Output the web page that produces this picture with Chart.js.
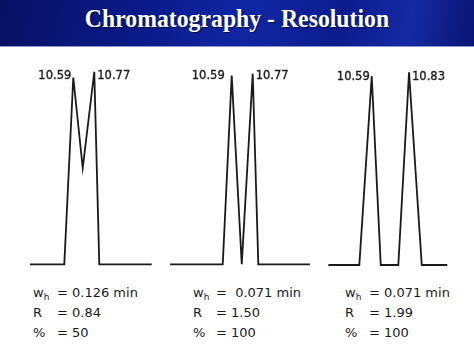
<!DOCTYPE html>
<html>
<head>
<meta charset="utf-8">
<script src="https://cdn.jsdelivr.net/npm/chart.js@4/dist/chart.umd.min.js"></script>
<style>
  html, body { margin: 0; padding: 0; background: #ffffff; }
  body { width: 474px; height: 355px; position: relative; overflow: hidden; }
  #titlebar {
    position: absolute; left: 0; top: 0; width: 474px; height: 46px;
    background: linear-gradient(100deg, #081062 0%, #0b1a8a 30%, #1026a2 52%, #0c1c8e 72%, #152aa4 86%, #0a1472 100%);
    border-bottom: 1px solid #8e96c4;
  }
  #title {
    position: absolute; left: 0; top: -3px; width: 474px; height: 44px;
    line-height: 44px; text-align: center; color: #ffffff;
    font-family: "Liberation Serif", "Times New Roman", serif; font-weight: bold; font-size: 25px;
    transform: scaleX(0.95);
    text-shadow: 1px 1px 1px rgba(0,0,0,0.6);
  }
  canvas { position: absolute; }
  .stat {
    position: absolute; font-family: "DejaVu Sans", Verdana, sans-serif; font-size: 13px;
    line-height: 13px; color: #1a1a1a; white-space: pre;
  }
  .stat sub { font-size: 9px; vertical-align: -3px; }
</style>
</head>
<body>
<div id="titlebar"></div>
<div id="title">Chromatography - Resolution</div>
<canvas id="c1" width="130" height="210" style="left:28px;top:60px"></canvas>
<canvas id="c2" width="150" height="210" style="left:165px;top:60px"></canvas>
<canvas id="c3" width="140" height="210" style="left:320px;top:60px"></canvas>
<div id="stats"></div>
<script>
// ---- data (retention time in min, relative detector signal) ----
const times1   = [10.219, 10.513, 10.59, 10.671, 10.77, 10.813, 11.262];
const signal1  = [0, 0, 97, 50, 100, 0, 0];
const times2   = [10.061, 10.513, 10.59, 10.676, 10.77, 10.818, 11.261];
const signal2  = [0, 0, 98, 0, 99, 0, 0];
const times3   = [10.311, 10.510, 10.59, 10.648, 10.761, 10.83, 10.912, 11.076];
const signal3  = [0, 0, 98, 0, 0, 100, 0, 0];
const peaks1 = [10.59, 10.77];
const peaks2 = [10.59, 10.77];
const peaks3 = [10.59, 10.83];
const statLabels = ["w_h", "R", "%"];
const stats1 = ["0.126 min", "0.84", "50"];
const stats2 = ["0.071 min", "1.50", "100"];
const stats3 = ["0.071 min", "1.99", "100"];

const peakLabelPlugin = {
  id: 'peakLabels',
  afterDatasetsDraw(chart, args, opts) {
    const ctx = chart.ctx;
    const xs = chart.scales.x, ys = chart.scales.y;
    ctx.save();
    ctx.font = opts.font;
    ctx.fillStyle = opts.color;
    ctx.strokeStyle = opts.color;
    ctx.lineWidth = 0.35;
    ctx.textBaseline = 'alphabetic';
    const y = ys.getPixelForValue(opts.labelY);
    opts.times.forEach((t, i) => {
      const x = xs.getPixelForValue(t);
      const txt = t.toFixed(2);
      let tx;
      if (i === 0) { ctx.textAlign = 'right'; tx = x - opts.gapLeft; }
      else { ctx.textAlign = 'left'; tx = x + opts.gapRight; }
      ctx.fillText(txt, tx, y);
      ctx.strokeText(txt, tx, y);
    });
    ctx.restore();
  }
};

function makeChart(id, times, signal, peaks, xmin, xmax, ymin, ymax, gapLeft) {
  const pts = times.map((t, i) => ({ x: t, y: signal[i] }));
  return new Chart(document.getElementById(id), {
    type: 'line',
    data: { datasets: [{ data: pts, borderColor: '#1a1a1a', borderWidth: 1.8, pointRadius: 0, tension: 0, fill: false }] },
    options: {
      responsive: false, animation: false, devicePixelRatio: 1,
      layout: { padding: 0 },
      scales: {
        x: { type: 'linear', min: xmin, max: xmax, display: false },
        y: { type: 'linear', min: ymin, max: ymax, display: false }
      },
      plugins: {
        legend: { display: false }, tooltip: { enabled: false },
        peakLabels: { times: peaks, font: '11.5px "DejaVu Sans", Verdana, sans-serif', color: '#1a1a1a', labelY: 96, gapLeft: gapLeft, gapRight: 3 }
      }
    },
    plugins: [peakLabelPlugin]
  });
}

makeChart('c1', times1, signal1, peaks1, 10.202, 11.316, -2.96, 106.1, 2);
makeChart('c2', times2, signal2, peaks2, 10.018, 11.304, -2.96, 106.1, 7);
makeChart('c3', times3, signal3, peaks3, 10.257, 11.158, -2.6, 106.4, 2);

// ---- parameter text below each chromatogram ----
const statsEl = document.getElementById('stats');
const cols = [
  { x: 33, eq: 57, vals: stats1, sep: ['= ', '= ', '= '] },
  { x: 193, eq: 216, vals: stats2, sep: ['=  ', '= ', '= '] },
  { x: 345, eq: 369, vals: stats3, sep: ['= ', '= ', '= '] }
];
const rowTops = [286, 306, 326];
cols.forEach(c => {
  statLabels.forEach((lab, r) => {
    const l = document.createElement('div');
    l.className = 'stat';
    l.style.left = c.x + 'px'; l.style.top = rowTops[r] + 'px';
    if (lab === 'w_h') { l.innerHTML = 'w<sub>h</sub>'; } else { l.textContent = lab; }
    statsEl.appendChild(l);
    const v = document.createElement('div');
    v.className = 'stat';
    v.style.left = c.eq + 'px'; v.style.top = rowTops[r] + 'px';
    v.textContent = c.sep[r] + c.vals[r];
    statsEl.appendChild(v);
  });
});
</script>
</body>
</html>
